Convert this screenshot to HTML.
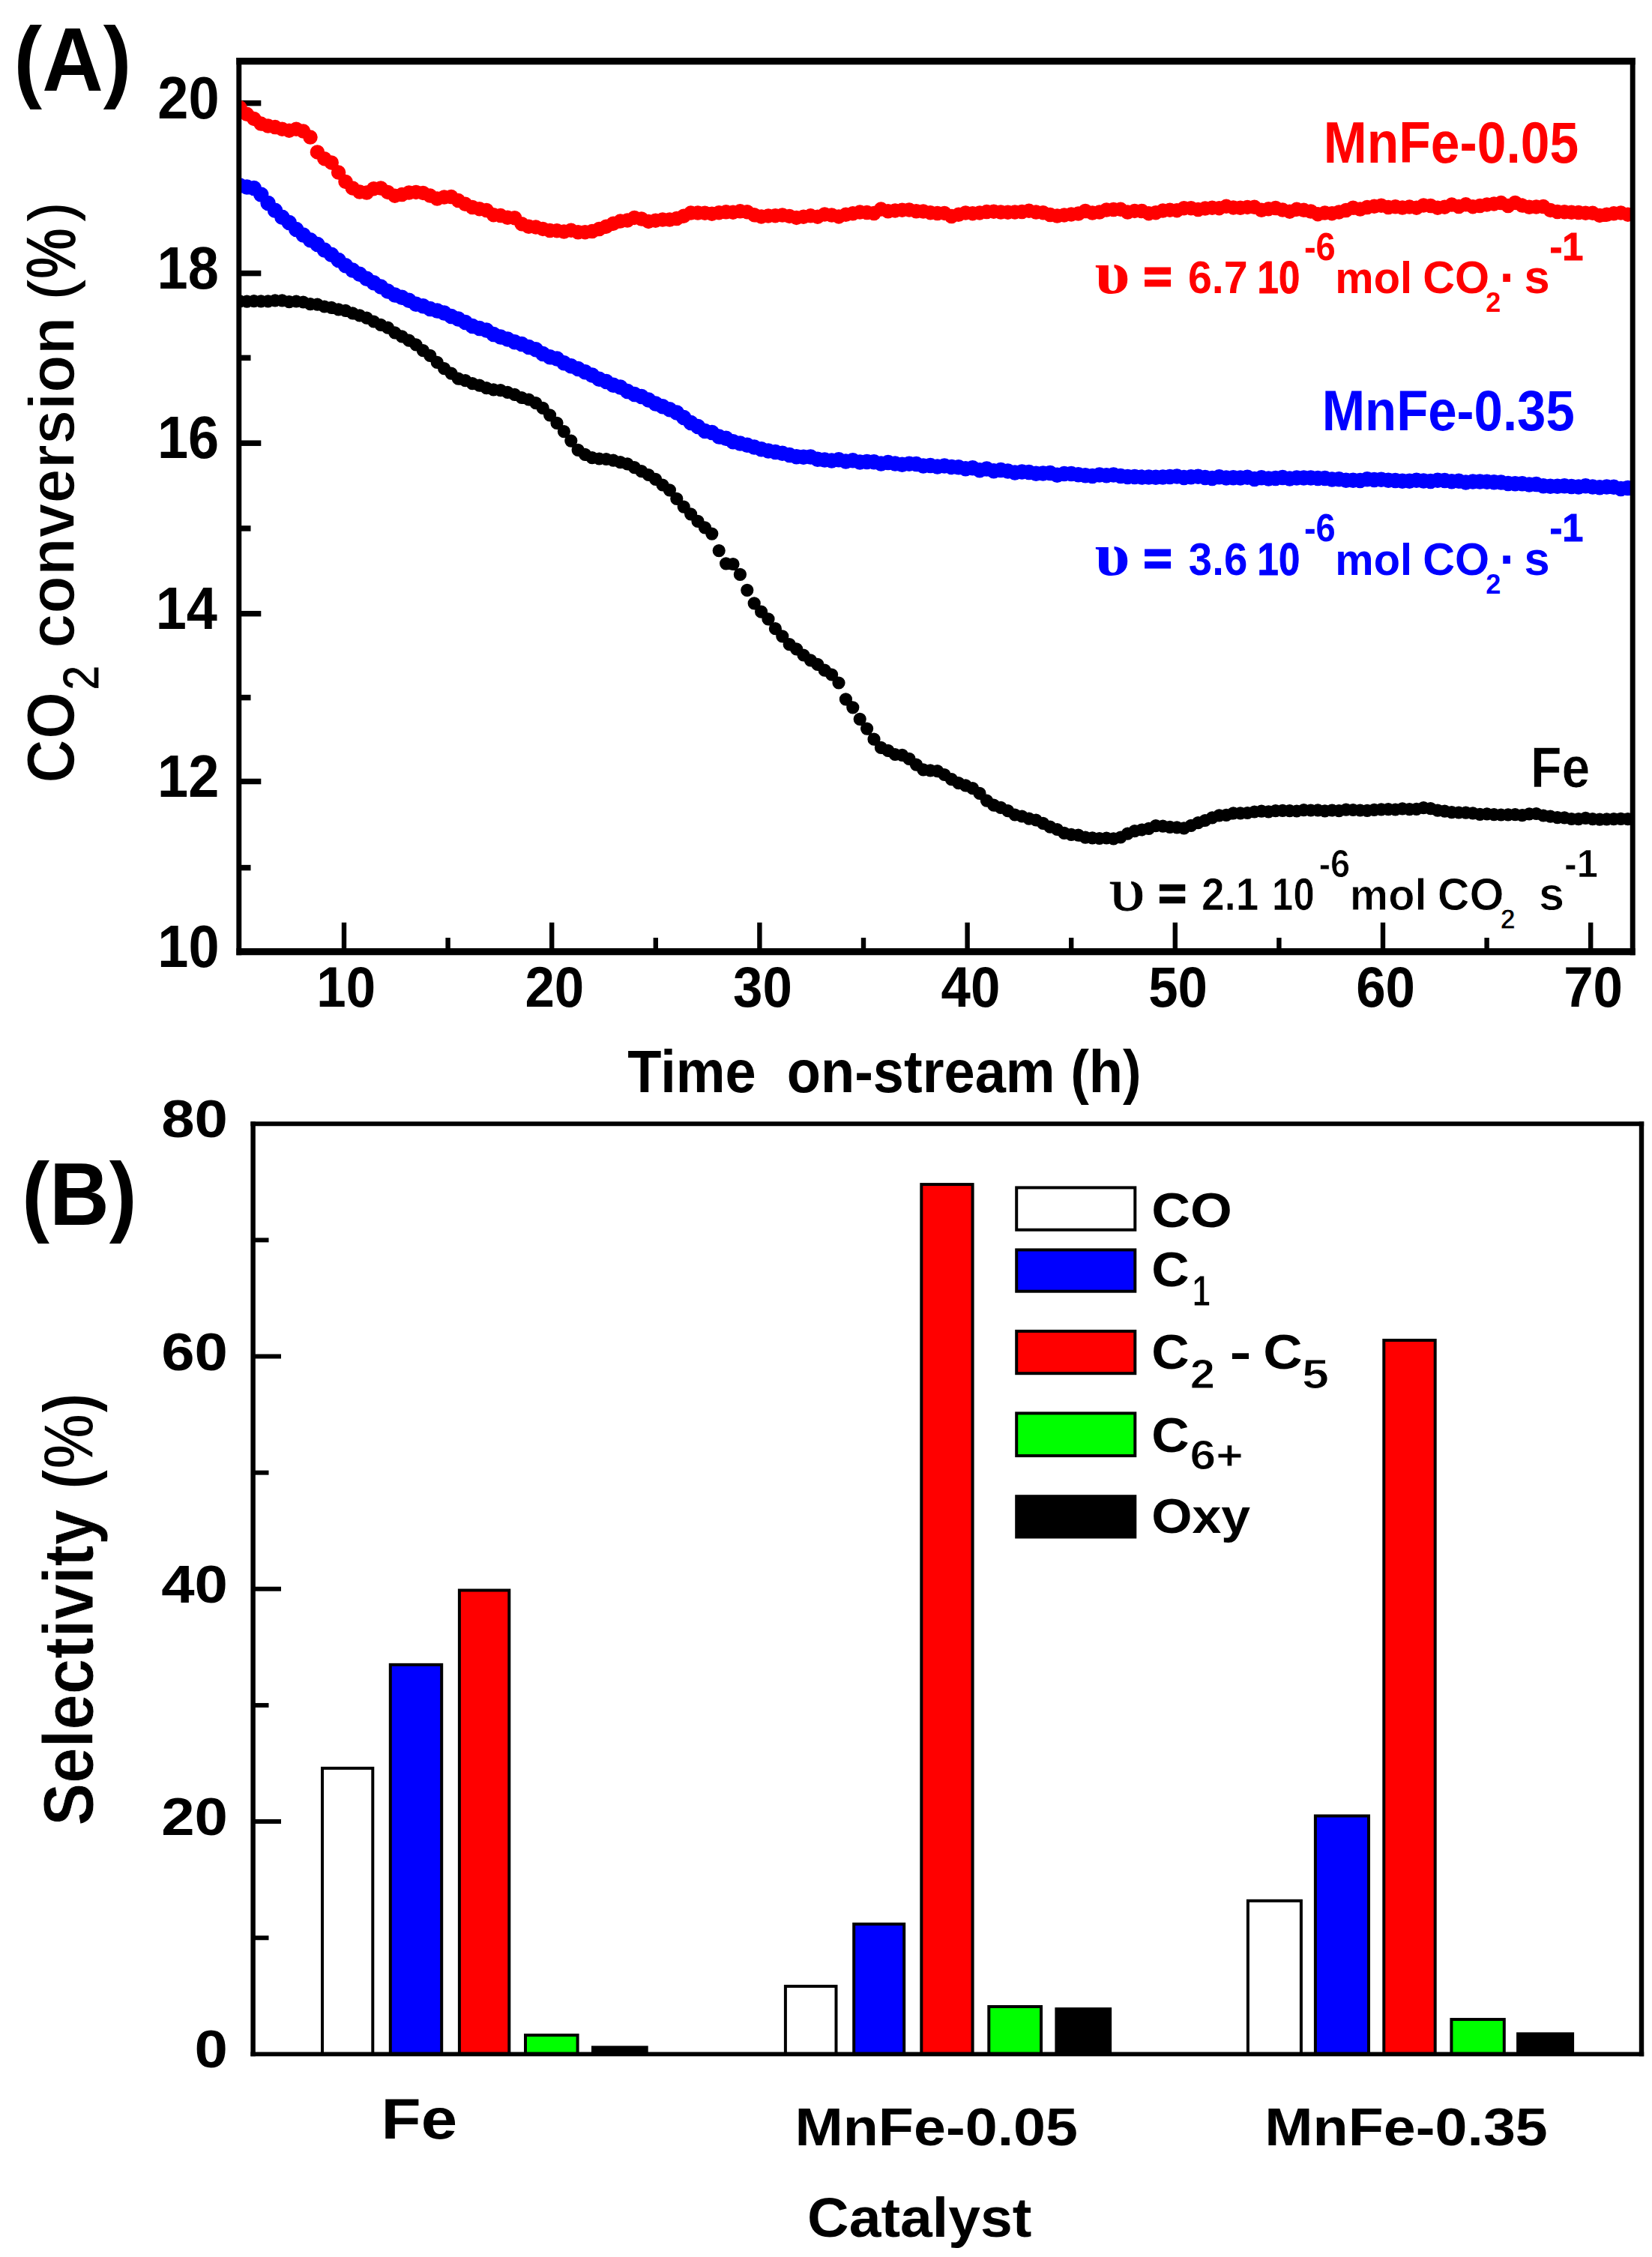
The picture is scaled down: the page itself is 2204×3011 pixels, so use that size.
<!DOCTYPE html>
<html lang="en"><head><meta charset="utf-8"><title>CO2 conversion and selectivity</title>
<style>html,body{margin:0;padding:0;background:#fff}svg text{white-space:pre}</style></head>
<body>
<svg width="2204" height="3011" viewBox="0 0 2204 3011" style="display:block">
<rect width="2204" height="3011" fill="#fff"/>
<g>
<g id="panelA">
<line x1="318.80" y1="1157.60" x2="334.50" y2="1157.60" stroke="#000" stroke-width="7.50" stroke-linecap="butt"/>
<line x1="318.80" y1="1042.50" x2="348.30" y2="1042.50" stroke="#000" stroke-width="7.50" stroke-linecap="butt"/>
<line x1="318.80" y1="930.60" x2="334.50" y2="930.60" stroke="#000" stroke-width="7.50" stroke-linecap="butt"/>
<line x1="318.80" y1="818.70" x2="348.30" y2="818.70" stroke="#000" stroke-width="7.50" stroke-linecap="butt"/>
<line x1="318.80" y1="704.95" x2="334.50" y2="704.95" stroke="#000" stroke-width="7.50" stroke-linecap="butt"/>
<line x1="318.80" y1="591.20" x2="348.30" y2="591.20" stroke="#000" stroke-width="7.50" stroke-linecap="butt"/>
<line x1="318.80" y1="477.40" x2="334.50" y2="477.40" stroke="#000" stroke-width="7.50" stroke-linecap="butt"/>
<line x1="318.80" y1="364.60" x2="348.30" y2="364.60" stroke="#000" stroke-width="7.50" stroke-linecap="butt"/>
<line x1="318.80" y1="251.10" x2="334.50" y2="251.10" stroke="#000" stroke-width="7.50" stroke-linecap="butt"/>
<line x1="318.80" y1="137.60" x2="348.30" y2="137.60" stroke="#000" stroke-width="7.50" stroke-linecap="butt"/>
<line x1="459.00" y1="1269.70" x2="459.00" y2="1230.70" stroke="#000" stroke-width="6.40" stroke-linecap="butt"/>
<line x1="597.60" y1="1269.70" x2="597.60" y2="1251.00" stroke="#000" stroke-width="6.40" stroke-linecap="butt"/>
<line x1="736.20" y1="1269.70" x2="736.20" y2="1230.70" stroke="#000" stroke-width="6.40" stroke-linecap="butt"/>
<line x1="874.80" y1="1269.70" x2="874.80" y2="1251.00" stroke="#000" stroke-width="6.40" stroke-linecap="butt"/>
<line x1="1013.40" y1="1269.70" x2="1013.40" y2="1230.70" stroke="#000" stroke-width="6.40" stroke-linecap="butt"/>
<line x1="1152.00" y1="1269.70" x2="1152.00" y2="1251.00" stroke="#000" stroke-width="6.40" stroke-linecap="butt"/>
<line x1="1290.60" y1="1269.70" x2="1290.60" y2="1230.70" stroke="#000" stroke-width="6.40" stroke-linecap="butt"/>
<line x1="1429.20" y1="1269.70" x2="1429.20" y2="1251.00" stroke="#000" stroke-width="6.40" stroke-linecap="butt"/>
<line x1="1567.80" y1="1269.70" x2="1567.80" y2="1230.70" stroke="#000" stroke-width="6.40" stroke-linecap="butt"/>
<line x1="1706.40" y1="1269.70" x2="1706.40" y2="1251.00" stroke="#000" stroke-width="6.40" stroke-linecap="butt"/>
<line x1="1845.00" y1="1269.70" x2="1845.00" y2="1230.70" stroke="#000" stroke-width="6.40" stroke-linecap="butt"/>
<line x1="1983.60" y1="1269.70" x2="1983.60" y2="1251.00" stroke="#000" stroke-width="6.40" stroke-linecap="butt"/>
<line x1="2122.20" y1="1269.70" x2="2122.20" y2="1230.70" stroke="#000" stroke-width="6.40" stroke-linecap="butt"/>
<clipPath id="clipA"><rect x="318.8" y="81.6" width="1859.3999999999999" height="1188.1000000000001"/></clipPath><g clip-path="url(#clipA)">
<path d="M320.0,401.8h0M329.4,402.2h0M338.8,401.7h0M348.2,401.9h0M357.6,401.9h0M367.0,400.9h0M376.4,400.9h0M385.8,402.6h0M395.2,402.0h0M404.6,403.0h0M414.0,405.6h0M423.4,406.1h0M432.8,409.0h0M442.2,410.4h0M451.6,412.9h0M461.0,414.4h0M470.4,417.8h0M479.8,420.8h0M489.2,424.2h0M498.6,429.0h0M508.0,433.4h0M517.4,437.2h0M526.8,443.9h0M536.2,448.9h0M545.6,454.2h0M555.0,459.9h0M564.4,467.7h0M573.8,474.3h0M583.2,483.3h0M592.6,491.7h0M602.0,498.1h0M611.4,505.2h0M620.8,507.7h0M630.2,511.7h0M639.6,514.2h0M649.0,517.7h0M658.4,519.9h0M667.8,520.7h0M677.2,523.4h0M686.6,526.3h0M696.0,530.5h0M705.4,533.0h0M714.8,537.6h0M724.2,544.4h0M733.6,553.8h0M743.0,564.3h0M752.4,575.6h0M761.8,588.1h0M771.2,600.3h0M780.6,606.4h0M790.0,610.7h0M799.4,612.0h0M808.8,612.5h0M818.2,614.1h0M827.6,616.6h0M837.0,618.8h0M846.4,623.6h0M855.8,628.7h0M865.2,633.5h0M874.6,639.3h0M884.0,647.0h0M893.4,653.9h0M902.8,665.3h0M912.2,676.1h0M921.6,685.8h0M931.0,695.4h0M940.4,703.9h0M949.8,712.1h0M959.2,734.6h0M968.6,751.8h0M978.0,752.5h0M987.4,766.4h0M996.8,787.3h0M1006.2,804.9h0M1015.6,816.2h0M1025.0,825.9h0M1034.4,838.7h0M1043.8,848.9h0M1053.2,859.7h0M1062.6,865.9h0M1072.0,874.0h0M1081.4,880.8h0M1090.8,886.4h0M1100.2,894.2h0M1109.6,900.0h0M1119.0,911.0h0M1128.4,932.9h0M1137.8,943.8h0M1147.2,959.3h0M1156.6,972.1h0M1166.0,986.2h0M1175.4,997.4h0M1184.8,1001.4h0M1194.2,1006.5h0M1203.6,1007.3h0M1213.0,1012.4h0M1222.4,1020.1h0M1231.8,1026.9h0M1241.2,1027.8h0M1250.6,1028.7h0M1260.0,1033.5h0M1269.4,1039.7h0M1278.8,1044.7h0M1288.2,1047.9h0M1297.6,1051.7h0M1307.0,1058.4h0M1316.4,1068.1h0M1325.8,1074.2h0M1335.2,1077.4h0M1344.6,1081.7h0M1354.0,1087.0h0M1363.4,1089.0h0M1372.8,1092.1h0M1382.2,1094.0h0M1391.6,1098.4h0M1401.0,1103.2h0M1410.4,1106.5h0M1419.8,1111.4h0M1429.2,1113.3h0M1438.6,1114.1h0M1448.0,1117.1h0M1457.4,1117.9h0M1466.8,1118.5h0M1476.2,1118.0h0M1485.6,1118.9h0M1495.0,1117.0h0M1504.4,1112.1h0M1513.8,1108.6h0M1523.2,1107.0h0M1532.6,1105.3h0M1542.0,1101.6h0M1551.4,1102.2h0M1560.8,1103.4h0M1570.2,1103.8h0M1579.6,1104.8h0M1589.0,1101.4h0M1598.4,1097.7h0M1607.8,1094.5h0M1617.2,1090.8h0M1626.6,1087.9h0M1636.0,1087.4h0M1645.4,1084.8h0M1654.8,1084.9h0M1664.2,1084.5h0M1673.6,1083.0h0M1683.0,1082.2h0M1692.4,1082.9h0M1701.8,1081.6h0M1711.2,1081.3h0M1720.6,1081.7h0M1730.0,1082.0h0M1739.4,1080.7h0M1748.8,1081.0h0M1758.2,1080.9h0M1767.6,1081.8h0M1777.0,1081.0h0M1786.4,1081.7h0M1795.8,1080.2h0M1805.2,1080.5h0M1814.6,1081.0h0M1824.0,1081.4h0M1833.4,1080.4h0M1842.8,1079.9h0M1852.2,1079.6h0M1861.6,1080.0h0M1871.0,1078.9h0M1880.4,1079.7h0M1889.8,1079.3h0M1899.2,1077.6h0M1908.6,1078.7h0M1918.0,1081.1h0M1927.4,1082.1h0M1936.8,1083.7h0M1946.2,1084.0h0M1955.6,1084.1h0M1965.0,1084.9h0M1974.4,1086.4h0M1983.8,1085.9h0M1993.2,1086.6h0M2002.6,1087.0h0M2012.0,1086.9h0M2021.4,1086.7h0M2030.8,1087.6h0M2040.2,1085.9h0M2049.6,1085.5h0M2059.0,1088.0h0M2068.4,1089.2h0M2077.8,1090.7h0M2087.2,1090.9h0M2096.6,1092.5h0M2106.0,1092.7h0M2115.4,1091.4h0M2124.8,1092.7h0M2134.2,1093.1h0M2143.6,1092.9h0M2153.0,1092.7h0M2162.4,1092.4h0M2171.8,1092.6h0" fill="none" stroke="#000" stroke-width="17.2" stroke-linecap="round"/>
<path d="M320.0,247.4h0M329.4,249.4h0M338.8,250.9h0M348.2,259.4h0M357.6,270.9h0M367.0,280.7h0M376.4,289.8h0M385.8,297.1h0M395.2,306.1h0M404.6,313.4h0M414.0,320.2h0M423.4,326.1h0M432.8,333.4h0M442.2,339.8h0M451.6,347.1h0M461.0,354.2h0M470.4,360.5h0M479.8,365.8h0M489.2,371.8h0M498.6,377.3h0M508.0,382.6h0M517.4,388.5h0M526.8,393.5h0M536.2,396.8h0M545.6,400.7h0M555.0,405.8h0M564.4,408.3h0M573.8,411.9h0M583.2,414.6h0M592.6,417.6h0M602.0,422.1h0M611.4,425.4h0M620.8,430.1h0M630.2,435.1h0M639.6,438.0h0M649.0,440.5h0M658.4,446.1h0M667.8,449.4h0M677.2,452.5h0M686.6,456.2h0M696.0,459.1h0M705.4,463.1h0M714.8,466.2h0M724.2,472.1h0M733.6,476.3h0M743.0,478.4h0M752.4,484.2h0M761.8,488.3h0M771.2,491.9h0M780.6,496.3h0M790.0,500.4h0M799.4,505.8h0M808.8,508.9h0M818.2,513.8h0M827.6,516.6h0M837.0,522.0h0M846.4,526.1h0M855.8,529.1h0M865.2,533.5h0M874.6,538.6h0M884.0,542.3h0M893.4,546.3h0M902.8,550.6h0M912.2,557.0h0M921.6,564.1h0M931.0,568.9h0M940.4,575.0h0M949.8,577.1h0M959.2,582.5h0M968.6,584.7h0M978.0,589.3h0M987.4,591.5h0M996.8,593.8h0M1006.2,596.6h0M1015.6,599.2h0M1025.0,601.4h0M1034.4,603.0h0M1043.8,604.8h0M1053.2,606.9h0M1062.6,609.2h0M1072.0,609.7h0M1081.4,609.5h0M1090.8,612.7h0M1100.2,613.5h0M1109.6,614.6h0M1119.0,613.3h0M1128.4,615.4h0M1137.8,614.2h0M1147.2,616.4h0M1156.6,615.9h0M1166.0,616.3h0M1175.4,618.4h0M1184.8,616.9h0M1194.2,618.5h0M1203.6,619.8h0M1213.0,618.7h0M1222.4,619.1h0M1231.8,621.5h0M1241.2,621.0h0M1250.6,622.5h0M1260.0,621.4h0M1269.4,623.0h0M1278.8,623.2h0M1288.2,625.2h0M1297.6,624.3h0M1307.0,627.3h0M1316.4,625.6h0M1325.8,628.2h0M1335.2,627.0h0M1344.6,628.4h0M1354.0,630.5h0M1363.4,629.5h0M1372.8,630.1h0M1382.2,631.8h0M1391.6,631.4h0M1401.0,630.9h0M1410.4,633.7h0M1419.8,631.9h0M1429.2,632.0h0M1438.6,633.2h0M1448.0,634.2h0M1457.4,634.9h0M1466.8,633.5h0M1476.2,634.3h0M1485.6,633.6h0M1495.0,634.9h0M1504.4,635.9h0M1513.8,636.0h0M1523.2,636.6h0M1532.6,636.4h0M1542.0,636.8h0M1551.4,636.6h0M1560.8,636.1h0M1570.2,635.6h0M1579.6,636.9h0M1589.0,636.2h0M1598.4,635.8h0M1607.8,636.9h0M1617.2,638.1h0M1626.6,636.3h0M1636.0,637.6h0M1645.4,637.2h0M1654.8,637.6h0M1664.2,636.8h0M1673.6,639.0h0M1683.0,637.3h0M1692.4,638.4h0M1701.8,638.0h0M1711.2,637.1h0M1720.6,638.6h0M1730.0,637.6h0M1739.4,637.6h0M1748.8,637.6h0M1758.2,638.1h0M1767.6,638.0h0M1777.0,639.5h0M1786.4,639.3h0M1795.8,640.7h0M1805.2,640.7h0M1814.6,641.0h0M1824.0,639.3h0M1833.4,640.0h0M1842.8,639.7h0M1852.2,640.8h0M1861.6,641.1h0M1871.0,641.8h0M1880.4,641.8h0M1889.8,640.8h0M1899.2,641.5h0M1908.6,642.0h0M1918.0,640.8h0M1927.4,641.1h0M1936.8,642.3h0M1946.2,641.7h0M1955.6,643.6h0M1965.0,642.5h0M1974.4,642.4h0M1983.8,642.8h0M1993.2,643.2h0M2002.6,643.6h0M2012.0,644.9h0M2021.4,645.2h0M2030.8,645.2h0M2040.2,646.6h0M2049.6,645.9h0M2059.0,648.2h0M2068.4,648.8h0M2077.8,648.7h0M2087.2,648.3h0M2096.6,648.9h0M2106.0,649.4h0M2115.4,648.3h0M2124.8,649.6h0M2134.2,650.2h0M2143.6,649.6h0M2153.0,649.7h0M2162.4,651.9h0M2171.8,651.1h0" fill="none" stroke="#0000ff" stroke-width="20.5" stroke-linecap="round"/>
<path d="M320.0,143.6h0M329.4,152.3h0M338.8,158.4h0M348.2,165.1h0M357.6,168.0h0M367.0,169.6h0M376.4,172.2h0M385.8,174.2h0M395.2,172.2h0M404.6,175.1h0M414.0,183.1h0M423.4,202.9h0M432.8,211.7h0M442.2,216.9h0M451.6,230.1h0M461.0,242.4h0M470.4,250.9h0M479.8,256.0h0M489.2,257.0h0M498.6,251.7h0M508.0,251.0h0M517.4,256.4h0M526.8,261.2h0M536.2,259.6h0M545.6,257.0h0M555.0,256.4h0M564.4,257.4h0M573.8,261.1h0M583.2,265.0h0M592.6,263.0h0M602.0,262.6h0M611.4,267.6h0M620.8,272.3h0M630.2,276.5h0M639.6,278.7h0M649.0,280.5h0M658.4,286.7h0M667.8,287.6h0M677.2,290.3h0M686.6,290.7h0M696.0,298.7h0M705.4,302.3h0M714.8,302.9h0M724.2,305.4h0M733.6,307.5h0M743.0,307.7h0M752.4,309.1h0M761.8,307.2h0M771.2,309.8h0M780.6,309.7h0M790.0,308.6h0M799.4,305.5h0M808.8,302.2h0M818.2,298.2h0M827.6,295.1h0M837.0,294.1h0M846.4,290.4h0M855.8,292.0h0M865.2,295.4h0M874.6,294.2h0M884.0,293.0h0M893.4,293.0h0M902.8,291.5h0M912.2,288.2h0M921.6,284.1h0M931.0,284.1h0M940.4,284.2h0M949.8,285.2h0M959.2,283.7h0M968.6,282.8h0M978.0,283.2h0M987.4,281.8h0M996.8,282.7h0M1006.2,286.7h0M1015.6,288.9h0M1025.0,287.9h0M1034.4,287.7h0M1043.8,287.0h0M1053.2,288.4h0M1062.6,290.4h0M1072.0,289.2h0M1081.4,287.8h0M1090.8,289.2h0M1100.2,285.9h0M1109.6,287.0h0M1119.0,288.9h0M1128.4,286.3h0M1137.8,284.8h0M1147.2,283.1h0M1156.6,283.5h0M1166.0,284.6h0M1175.4,279.1h0M1184.8,281.8h0M1194.2,280.9h0M1203.6,280.2h0M1213.0,279.9h0M1222.4,281.8h0M1231.8,282.0h0M1241.2,283.7h0M1250.6,284.6h0M1260.0,284.4h0M1269.4,288.5h0M1278.8,286.3h0M1288.2,283.9h0M1297.6,284.7h0M1307.0,283.9h0M1316.4,282.6h0M1325.8,282.2h0M1335.2,283.0h0M1344.6,283.2h0M1354.0,282.9h0M1363.4,282.5h0M1372.8,281.3h0M1382.2,283.1h0M1391.6,283.7h0M1401.0,286.5h0M1410.4,288.1h0M1419.8,286.9h0M1429.2,285.9h0M1438.6,285.1h0M1448.0,281.5h0M1457.4,284.1h0M1466.8,283.1h0M1476.2,280.0h0M1485.6,279.5h0M1495.0,279.3h0M1504.4,283.1h0M1513.8,281.4h0M1523.2,281.5h0M1532.6,284.7h0M1542.0,283.7h0M1551.4,281.1h0M1560.8,280.2h0M1570.2,280.7h0M1579.6,277.7h0M1589.0,277.7h0M1598.4,279.6h0M1607.8,278.1h0M1617.2,277.2h0M1626.6,277.7h0M1636.0,275.3h0M1645.4,276.9h0M1654.8,277.3h0M1664.2,276.4h0M1673.6,276.3h0M1683.0,280.3h0M1692.4,278.7h0M1701.8,277.5h0M1711.2,280.1h0M1720.6,282.2h0M1730.0,279.3h0M1739.4,280.3h0M1748.8,282.0h0M1758.2,285.7h0M1767.6,283.9h0M1777.0,284.7h0M1786.4,282.9h0M1795.8,280.5h0M1805.2,277.2h0M1814.6,279.1h0M1824.0,276.5h0M1833.4,275.3h0M1842.8,274.2h0M1852.2,276.6h0M1861.6,275.7h0M1871.0,277.0h0M1880.4,276.1h0M1889.8,277.2h0M1899.2,273.9h0M1908.6,274.5h0M1918.0,277.2h0M1927.4,276.2h0M1936.8,273.1h0M1946.2,275.6h0M1955.6,272.8h0M1965.0,275.7h0M1974.4,274.6h0M1983.8,272.9h0M1993.2,271.9h0M2002.6,270.6h0M2012.0,274.6h0M2021.4,270.4h0M2030.8,274.1h0M2040.2,276.3h0M2049.6,275.9h0M2059.0,275.6h0M2068.4,280.4h0M2077.8,282.5h0M2087.2,282.7h0M2096.6,283.3h0M2106.0,283.5h0M2115.4,284.2h0M2124.8,284.3h0M2134.2,287.4h0M2143.6,286.3h0M2153.0,284.8h0M2162.4,283.9h0M2171.8,286.2h0" fill="none" stroke="#ff0000" stroke-width="19.5" stroke-linecap="round"/>
</g>
<line x1="318.80" y1="77.00" x2="318.80" y2="1274.30" stroke="#000" stroke-width="6.90" stroke-linecap="butt"/>
<line x1="2178.20" y1="77.00" x2="2178.20" y2="1274.30" stroke="#000" stroke-width="6.90" stroke-linecap="butt"/>
<line x1="315.35" y1="81.60" x2="2181.65" y2="81.60" stroke="#000" stroke-width="9.20" stroke-linecap="butt"/>
<line x1="315.35" y1="1269.70" x2="2181.65" y2="1269.70" stroke="#000" stroke-width="9.20" stroke-linecap="butt"/>
<text transform="translate(210.27,1289.90) scale(0.9300,1)" font-family='"Liberation Sans", Arial, sans-serif' font-weight="bold" font-size="79.52" fill="#000">10</text>
<text transform="translate(210.09,1062.70) scale(0.9300,1)" font-family='"Liberation Sans", Arial, sans-serif' font-weight="bold" font-size="79.52" fill="#000">12</text>
<text transform="translate(207.69,838.90) scale(0.9300,1)" font-family='"Liberation Sans", Arial, sans-serif' font-weight="bold" font-size="79.52" fill="#000">14</text>
<text transform="translate(209.90,611.40) scale(0.9300,1)" font-family='"Liberation Sans", Arial, sans-serif' font-weight="bold" font-size="79.52" fill="#000">16</text>
<text transform="translate(209.53,384.80) scale(0.9300,1)" font-family='"Liberation Sans", Arial, sans-serif' font-weight="bold" font-size="79.52" fill="#000">18</text>
<text transform="translate(210.27,157.80) scale(0.9300,1)" font-family='"Liberation Sans", Arial, sans-serif' font-weight="bold" font-size="79.52" fill="#000">20</text>
<text transform="translate(422.28,1343.00) scale(0.9300,1)" font-family='"Liberation Sans", Arial, sans-serif' font-weight="bold" font-size="76.18" fill="#000">10</text>
<text transform="translate(700.45,1343.00) scale(0.9300,1)" font-family='"Liberation Sans", Arial, sans-serif' font-weight="bold" font-size="76.18" fill="#000">20</text>
<text transform="translate(978.10,1343.00) scale(0.9300,1)" font-family='"Liberation Sans", Arial, sans-serif' font-weight="bold" font-size="76.18" fill="#000">30</text>
<text transform="translate(1255.56,1343.00) scale(0.9300,1)" font-family='"Liberation Sans", Arial, sans-serif' font-weight="bold" font-size="76.18" fill="#000">40</text>
<text transform="translate(1532.23,1343.00) scale(0.9300,1)" font-family='"Liberation Sans", Arial, sans-serif' font-weight="bold" font-size="76.18" fill="#000">50</text>
<text transform="translate(1809.17,1343.00) scale(0.9300,1)" font-family='"Liberation Sans", Arial, sans-serif' font-weight="bold" font-size="76.18" fill="#000">60</text>
<text transform="translate(2086.19,1343.00) scale(0.9300,1)" font-family='"Liberation Sans", Arial, sans-serif' font-weight="bold" font-size="76.18" fill="#000">70</text>
<text transform="translate(837.26,1456.80) scale(0.9372,1)" font-family='"Liberation Sans", Arial, sans-serif' font-weight="bold" font-size="78.98" fill="#000">Time  on-stream (h)</text>
<text transform="translate(98.80,1044.75) rotate(-90) scale(0.8875,1)" font-family='"Liberation Sans", Arial, sans-serif' font-weight="bold" font-size="91.49" fill="#000" stroke="#fff" stroke-width="1.6">CO</text>
<text transform="translate(131.20,920.42) rotate(-90) scale(0.8865,1)" font-family='"Liberation Sans", Arial, sans-serif' font-weight="normal" font-size="65.95" fill="#000" stroke="#000" stroke-width="0.8">2</text>
<text transform="translate(98.80,864.82) rotate(-90) scale(0.9529,1)" font-family='"Liberation Sans", Arial, sans-serif' font-weight="bold" font-size="86.98" fill="#000" stroke="#fff" stroke-width="1.6">conversion</text>
<text transform="translate(96.40,398.88) rotate(-90) scale(0.8892,1)" font-family='"Liberation Sans", Arial, sans-serif' font-weight="normal" font-size="82.33" fill="#000" stroke="#000" stroke-width="1.8">(</text>
<text transform="translate(98.80,371.75) rotate(-90) scale(0.8264,1)" font-family='"Liberation Sans", Arial, sans-serif' font-weight="normal" font-size="91.49" fill="#000" stroke="#000" stroke-width="1.8">%</text>
<text transform="translate(96.40,294.12) rotate(-90) scale(0.8434,1)" font-family='"Liberation Sans", Arial, sans-serif' font-weight="normal" font-size="82.33" fill="#000" stroke="#000" stroke-width="1.8">)</text>
<text transform="translate(18.56,121.00) scale(0.9292,1)" font-family='"Liberation Sans", Arial, sans-serif' font-weight="bold" font-size="121.45" fill="#000">(A)</text>
<text transform="translate(1765.80,217.20) scale(0.8962,1)" font-family='"Liberation Sans", Arial, sans-serif' font-weight="bold" font-size="77.67" fill="#ff0000">MnFe-0.05</text>
<text transform="translate(1763.65,574.10) scale(0.9063,1)" font-family='"Liberation Sans", Arial, sans-serif' font-weight="bold" font-size="76.07" fill="#0000ff">MnFe-0.35</text>
<text transform="translate(2042.01,1050.20) scale(0.9023,1)" font-family='"Liberation Sans", Arial, sans-serif' font-weight="bold" font-size="75.35" fill="#000" stroke="#fff" stroke-width="0.7">Fe</text>
<text transform="translate(1460.44,391.30) scale(1.1392,1)" font-family='"Liberation Serif", serif' font-weight="bold" font-size="79.38" fill="#ff0000">υ</text>
<text transform="translate(1526.00,389.80) scale(1.0320,1)" font-family='"Liberation Sans", Arial, sans-serif' font-weight="bold" font-size="61.63" fill="#ff0000" stroke="#ff0000" stroke-width="3.0">=</text>
<text transform="translate(1584.95,391.30) scale(0.9315,1)" font-family='"Liberation Sans", Arial, sans-serif' font-weight="bold" font-size="61.63" fill="#ff0000">6.7</text>
<text transform="translate(1677.62,391.30) scale(0.8246,1)" font-family='"Liberation Sans", Arial, sans-serif' font-weight="bold" font-size="61.63" fill="#ff0000" stroke="#ff0000" stroke-width="1.0">10</text>
<text transform="translate(1739.92,346.70) scale(0.9240,1)" font-family='"Liberation Sans", Arial, sans-serif' font-weight="bold" font-size="50.88" fill="#ff0000">-6</text>
<text transform="translate(1781.35,391.30) scale(0.9597,1)" font-family='"Liberation Sans", Arial, sans-serif' font-weight="bold" font-size="60.14" fill="#ff0000">mol</text>
<text transform="translate(1898.23,391.30) scale(0.9605,1)" font-family='"Liberation Sans", Arial, sans-serif' font-weight="bold" font-size="61.63" fill="#ff0000">CO</text>
<text transform="translate(1982.14,416.40) scale(0.9601,1)" font-family='"Liberation Sans", Arial, sans-serif' font-weight="bold" font-size="37.56" fill="#ff0000">2</text>
<text transform="translate(2000.56,394.99) scale(0.9464,1)" font-family='"Liberation Sans", Arial, sans-serif' font-weight="bold" font-size="72.67" fill="#ff0000">·</text>
<text transform="translate(2033.56,391.30) scale(0.9609,1)" font-family='"Liberation Sans", Arial, sans-serif' font-weight="bold" font-size="63.74" fill="#ff0000">s</text>
<text transform="translate(2067.48,346.70) scale(0.9665,1)" font-family='"Liberation Sans", Arial, sans-serif' font-weight="bold" font-size="52.36" fill="#ff0000" stroke="#ff0000" stroke-width="1.0">-1</text>
<text transform="translate(1460.44,767.00) scale(1.1392,1)" font-family='"Liberation Serif", serif' font-weight="bold" font-size="79.38" fill="#0000ff">υ</text>
<text transform="translate(1526.00,765.50) scale(1.0320,1)" font-family='"Liberation Sans", Arial, sans-serif' font-weight="bold" font-size="61.63" fill="#0000ff" stroke="#0000ff" stroke-width="3.0">=</text>
<text transform="translate(1585.83,767.00) scale(0.9158,1)" font-family='"Liberation Sans", Arial, sans-serif' font-weight="bold" font-size="61.63" fill="#0000ff">3.6</text>
<text transform="translate(1677.62,767.00) scale(0.8246,1)" font-family='"Liberation Sans", Arial, sans-serif' font-weight="bold" font-size="61.63" fill="#0000ff" stroke="#0000ff" stroke-width="1.0">10</text>
<text transform="translate(1739.92,722.40) scale(0.9240,1)" font-family='"Liberation Sans", Arial, sans-serif' font-weight="bold" font-size="50.88" fill="#0000ff">-6</text>
<text transform="translate(1781.35,767.00) scale(0.9597,1)" font-family='"Liberation Sans", Arial, sans-serif' font-weight="bold" font-size="60.14" fill="#0000ff">mol</text>
<text transform="translate(1898.23,767.00) scale(0.9605,1)" font-family='"Liberation Sans", Arial, sans-serif' font-weight="bold" font-size="61.63" fill="#0000ff">CO</text>
<text transform="translate(1982.14,792.10) scale(0.9601,1)" font-family='"Liberation Sans", Arial, sans-serif' font-weight="bold" font-size="37.56" fill="#0000ff">2</text>
<text transform="translate(2000.56,770.69) scale(0.9464,1)" font-family='"Liberation Sans", Arial, sans-serif' font-weight="bold" font-size="72.67" fill="#0000ff">·</text>
<text transform="translate(2033.56,767.00) scale(0.9609,1)" font-family='"Liberation Sans", Arial, sans-serif' font-weight="bold" font-size="63.74" fill="#0000ff">s</text>
<text transform="translate(2067.48,722.40) scale(0.9665,1)" font-family='"Liberation Sans", Arial, sans-serif' font-weight="bold" font-size="52.36" fill="#0000ff" stroke="#0000ff" stroke-width="1.0">-1</text>
<text transform="translate(1480.10,1214.20) scale(1.2100,1)" font-family='"Liberation Serif", serif' font-weight="normal" font-size="79.38" fill="#000" stroke="#000" stroke-width="0.8">υ</text>
<text transform="translate(1545.50,1212.70) scale(1.0320,1)" font-family='"Liberation Sans", Arial, sans-serif' font-weight="bold" font-size="61.63" fill="#000" stroke="#000" stroke-width="2.4">=</text>
<text transform="translate(1602.98,1214.20) scale(0.8923,1)" font-family='"Liberation Sans", Arial, sans-serif' font-weight="bold" font-size="61.63" fill="#000" stroke="#fff" stroke-width="0.7">2.1</text>
<text transform="translate(1697.12,1214.20) scale(0.8246,1)" font-family='"Liberation Sans", Arial, sans-serif' font-weight="bold" font-size="61.63" fill="#000" stroke="#fff" stroke-width="0.7">10</text>
<text transform="translate(1759.42,1169.60) scale(0.9240,1)" font-family='"Liberation Sans", Arial, sans-serif' font-weight="bold" font-size="50.88" fill="#000" stroke="#fff" stroke-width="0.9">-6</text>
<text transform="translate(1800.85,1214.20) scale(0.9597,1)" font-family='"Liberation Sans", Arial, sans-serif' font-weight="bold" font-size="60.14" fill="#000" stroke="#fff" stroke-width="0.9">mol</text>
<text transform="translate(1917.73,1214.20) scale(0.9605,1)" font-family='"Liberation Sans", Arial, sans-serif' font-weight="bold" font-size="61.63" fill="#000" stroke="#fff" stroke-width="0.9">CO</text>
<text transform="translate(2001.64,1239.30) scale(0.9601,1)" font-family='"Liberation Sans", Arial, sans-serif' font-weight="bold" font-size="37.56" fill="#000" stroke="#fff" stroke-width="0.9">2</text>
<text transform="translate(2053.06,1214.20) scale(0.9609,1)" font-family='"Liberation Sans", Arial, sans-serif' font-weight="bold" font-size="63.74" fill="#000" stroke="#fff" stroke-width="0.9">s</text>
<text transform="translate(2086.98,1169.60) scale(0.9665,1)" font-family='"Liberation Sans", Arial, sans-serif' font-weight="bold" font-size="52.36" fill="#000" stroke="#fff" stroke-width="0.7">-1</text>
</g>
<g id="panelB">
<line x1="337.60" y1="2585.25" x2="358.50" y2="2585.25" stroke="#000" stroke-width="6.00" stroke-linecap="butt"/>
<line x1="337.60" y1="2430.10" x2="375.00" y2="2430.10" stroke="#000" stroke-width="6.00" stroke-linecap="butt"/>
<line x1="337.60" y1="2274.95" x2="358.50" y2="2274.95" stroke="#000" stroke-width="6.00" stroke-linecap="butt"/>
<line x1="337.60" y1="2119.80" x2="375.00" y2="2119.80" stroke="#000" stroke-width="6.00" stroke-linecap="butt"/>
<line x1="337.60" y1="1964.65" x2="358.50" y2="1964.65" stroke="#000" stroke-width="6.00" stroke-linecap="butt"/>
<line x1="337.60" y1="1809.50" x2="375.00" y2="1809.50" stroke="#000" stroke-width="6.00" stroke-linecap="butt"/>
<line x1="337.60" y1="1654.35" x2="358.50" y2="1654.35" stroke="#000" stroke-width="6.00" stroke-linecap="butt"/>
<rect x="430.00" y="2358.93" width="67.30" height="381.47" fill="#fff" stroke="#000" stroke-width="4.0"/>
<rect x="520.80" y="2220.85" width="68.40" height="519.55" fill="#0000ff" stroke="#000" stroke-width="4.0"/>
<rect x="612.90" y="2121.55" width="66.40" height="618.85" fill="#ff0000" stroke="#000" stroke-width="4.0"/>
<rect x="701.00" y="2715.00" width="69.60" height="25.40" fill="#00ff00" stroke="#000" stroke-width="4.0"/>
<rect x="791.00" y="2731.29" width="71.70" height="9.11" fill="#000" stroke="#000" stroke-width="4.0"/>
<rect x="1047.90" y="2649.84" width="67.60" height="90.56" fill="#fff" stroke="#000" stroke-width="4.0"/>
<rect x="1139.20" y="2566.83" width="67.00" height="173.57" fill="#0000ff" stroke="#000" stroke-width="4.0"/>
<rect x="1229.30" y="1580.08" width="68.30" height="1160.32" fill="#ff0000" stroke="#000" stroke-width="4.0"/>
<rect x="1319.30" y="2676.99" width="69.70" height="63.41" fill="#00ff00" stroke="#000" stroke-width="4.0"/>
<rect x="1409.40" y="2680.09" width="71.70" height="60.31" fill="#000" stroke="#000" stroke-width="4.0"/>
<rect x="1664.90" y="2535.80" width="71.00" height="204.60" fill="#fff" stroke="#000" stroke-width="4.0"/>
<rect x="1754.90" y="2422.54" width="71.10" height="317.86" fill="#0000ff" stroke="#000" stroke-width="4.0"/>
<rect x="1846.30" y="1787.98" width="68.40" height="952.42" fill="#ff0000" stroke="#000" stroke-width="4.0"/>
<rect x="1936.40" y="2694.05" width="70.40" height="46.35" fill="#00ff00" stroke="#000" stroke-width="4.0"/>
<rect x="2025.10" y="2713.29" width="73.00" height="27.11" fill="#000" stroke="#000" stroke-width="4.0"/>
<rect x="1356.20" y="1584.40" width="158.10" height="56.30" fill="#fff" stroke="#000" stroke-width="4"/>
<rect x="1356.20" y="1667.40" width="158.10" height="55.30" fill="#0000ff" stroke="#000" stroke-width="4"/>
<rect x="1356.20" y="1775.90" width="158.10" height="56.30" fill="#ff0000" stroke="#000" stroke-width="4"/>
<rect x="1356.20" y="1885.40" width="158.10" height="56.70" fill="#00ff00" stroke="#000" stroke-width="4"/>
<rect x="1356.20" y="1996.20" width="158.10" height="54.30" fill="#000" stroke="#000" stroke-width="4"/>
<text transform="translate(1536.13,1636.60) scale(1.1083,1)" font-family='"Liberation Sans", Arial, sans-serif' font-weight="bold" font-size="64.73" fill="#000">CO</text>
<text transform="translate(1536.21,1716.30) scale(1.0778,1)" font-family='"Liberation Sans", Arial, sans-serif' font-weight="bold" font-size="64.73" fill="#000">C</text>
<text transform="translate(1590.46,1741.70) scale(0.7734,1)" font-family='"Liberation Sans", Arial, sans-serif' font-weight="bold" font-size="56.73" fill="#000" stroke="#fff" stroke-width="1.0">1</text>
<text transform="translate(1536.21,1826.40) scale(1.0778,1)" font-family='"Liberation Sans", Arial, sans-serif' font-weight="bold" font-size="64.73" fill="#000">C</text>
<text transform="translate(1587.71,1851.90) scale(1.0675,1)" font-family='"Liberation Sans", Arial, sans-serif' font-weight="bold" font-size="55.91" fill="#000" stroke="#fff" stroke-width="1.0">2</text>
<text transform="translate(1640.51,1826.40) scale(1.3459,1)" font-family='"Liberation Sans", Arial, sans-serif' font-weight="bold" font-size="64.73" fill="#000">-</text>
<text transform="translate(1685.20,1826.40) scale(1.1202,1)" font-family='"Liberation Sans", Arial, sans-serif' font-weight="bold" font-size="64.73" fill="#000">C</text>
<text transform="translate(1737.06,1851.90) scale(1.1576,1)" font-family='"Liberation Sans", Arial, sans-serif' font-weight="bold" font-size="55.91" fill="#000" stroke="#fff" stroke-width="1.0">5</text>
<text transform="translate(1536.21,1936.60) scale(1.0778,1)" font-family='"Liberation Sans", Arial, sans-serif' font-weight="bold" font-size="64.73" fill="#000">C</text>
<text transform="translate(1587.46,1960.30) scale(1.1312,1)" font-family='"Liberation Sans", Arial, sans-serif' font-weight="bold" font-size="55.12" fill="#000" stroke="#fff" stroke-width="1.0">6+</text>
<text transform="translate(1536.21,2045.10) scale(1.0784,1)" font-family='"Liberation Sans", Arial, sans-serif' font-weight="bold" font-size="64.73" fill="#000">Oxy</text>
<line x1="337.60" y1="1496.25" x2="337.60" y2="2743.35" stroke="#000" stroke-width="6.40" stroke-linecap="butt"/>
<line x1="2190.00" y1="1496.25" x2="2190.00" y2="2743.35" stroke="#000" stroke-width="6.40" stroke-linecap="butt"/>
<line x1="334.40" y1="1499.20" x2="2193.20" y2="1499.20" stroke="#000" stroke-width="5.90" stroke-linecap="butt"/>
<line x1="334.40" y1="2740.40" x2="2193.20" y2="2740.40" stroke="#000" stroke-width="5.90" stroke-linecap="butt"/>
<text transform="translate(259.42,2758.40) scale(1.1400,1)" font-family='"Liberation Sans", Arial, sans-serif' font-weight="bold" font-size="69.96" fill="#000">0</text>
<text transform="translate(215.16,2448.10) scale(1.1400,1)" font-family='"Liberation Sans", Arial, sans-serif' font-weight="bold" font-size="69.96" fill="#000">20</text>
<text transform="translate(215.16,2137.80) scale(1.1400,1)" font-family='"Liberation Sans", Arial, sans-serif' font-weight="bold" font-size="69.96" fill="#000">40</text>
<text transform="translate(215.16,1827.50) scale(1.1400,1)" font-family='"Liberation Sans", Arial, sans-serif' font-weight="bold" font-size="69.96" fill="#000">60</text>
<text transform="translate(215.16,1517.20) scale(1.1400,1)" font-family='"Liberation Sans", Arial, sans-serif' font-weight="bold" font-size="69.96" fill="#000">80</text>
<text transform="translate(508.53,2852.50) scale(1.1321,1)" font-family='"Liberation Sans", Arial, sans-serif' font-weight="bold" font-size="76.80" fill="#000">Fe</text>
<text transform="translate(1060.39,2861.80) scale(1.0880,1)" font-family='"Liberation Sans", Arial, sans-serif' font-weight="bold" font-size="70.98" fill="#000">MnFe-0.05</text>
<text transform="translate(1687.19,2861.80) scale(1.0880,1)" font-family='"Liberation Sans", Arial, sans-serif' font-weight="bold" font-size="70.98" fill="#000">MnFe-0.35</text>
<text transform="translate(1077.12,2984.30) scale(1.0367,1)" font-family='"Liberation Sans", Arial, sans-serif' font-weight="bold" font-size="74.20" fill="#000">Catalyst</text>
<text transform="translate(124.20,2435.76) rotate(-90) scale(0.8951,1)" font-family='"Liberation Sans", Arial, sans-serif' font-weight="bold" font-size="95.27" fill="#000" stroke="#fff" stroke-width="0.8">Selectivity</text>
<text transform="translate(124.20,1987.36) rotate(-90) scale(0.8729,1)" font-family='"Liberation Sans", Arial, sans-serif' font-weight="bold" font-size="95.27" fill="#000" stroke="#fff" stroke-width="2.0">(%)</text>
<text transform="translate(29.28,1633.70) scale(0.9294,1)" font-family='"Liberation Sans", Arial, sans-serif' font-weight="bold" font-size="118.84" fill="#000">(B)</text>
</g>
</g>
</svg>
</body></html>
